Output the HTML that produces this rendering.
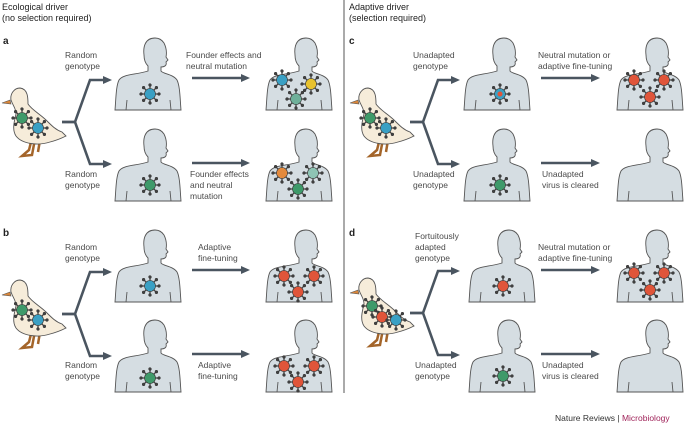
<!DOCTYPE html>
<html><head><meta charset="utf-8"><style>
body{margin:0;background:#fff}
svg{display:block}
text{font-family:"Liberation Sans",sans-serif;font-size:8.5px;fill:#4a4a4a}
.h{font-size:9px;fill:#222}
.l{font-size:10px;font-weight:bold;fill:#222}
</style></head><body>
<svg width="685" height="426" viewBox="0 0 685 426" xmlns="http://www.w3.org/2000/svg">
<defs>
<g id="p">
<path d="M40 0 C30 0 28 9 29 17 C29 22 31 26 33 28 L33 33 C20 37 8 36 4 42 C1 48 1 60 0 72 L66 72 C65 60 65 48 62 42 C58 36 48 36 46 33 L46 29 C50 29 52 27 51 24 L53 22 L51 19 C52 14 51 9 49 5 C47 2 44 0 40 0 Z" fill="#d5dde2" stroke="#555" stroke-width="0.9"/>
<path d="M12 62 L11 72 M55 62 L56 72" stroke="#555" stroke-width="0.9" fill="none"/>
</g>
<g id="v">
<g stroke="#444" stroke-width="1.3">
<path d="M0 -9 V9 M-9 0 H9 M-6.4 -6.4 L6.4 6.4 M-6.4 6.4 L6.4 -6.4"/>
</g>
<g fill="#444"><circle cx="0" cy="-9" r="1.3"/><circle cx="0" cy="9" r="1.3"/><circle cx="-9" cy="0" r="1.3"/><circle cx="9" cy="0" r="1.3"/><circle cx="-6.4" cy="-6.4" r="1.3"/><circle cx="6.4" cy="6.4" r="1.3"/><circle cx="-6.4" cy="6.4" r="1.3"/><circle cx="6.4" cy="-6.4" r="1.3"/></g>
</g>
<g id="d">
<path d="M30 52 L27 64 L20 70 L30 69 L33 53 M38 54 L36 66" stroke="#a4652a" stroke-width="2.5" fill="none"/>
<path d="M8 14 L0 17 L9 18 Z" fill="#d9863a" stroke="#555" stroke-width="0.6"/>
<path d="M18 2 C12 2 8 8 9 14 C11 20 14 22 14 28 C12 36 10 44 14 50 C20 58 36 60 48 56 C56 54 60 52 64 50 L60 46 C54 44 50 40 44 34 C38 28 30 24 26 18 C26 12 26 3 18 2 Z" fill="#f6ecda" stroke="#555" stroke-width="0.9"/>
</g>
<marker id="ar" markerWidth="10" markerHeight="10" refX="3" refY="5" orient="auto" markerUnits="userSpaceOnUse"><path d="M0 1 L9 5 L0 9 Z" fill="#4a5560"/></marker>
</defs>
<text class="h" x="2" y="10">Ecological driver</text>
<text class="h" x="2" y="21">(no selection required)</text>
<text class="h" x="349" y="10">Adaptive driver</text>
<text class="h" x="349" y="21">(selection required)</text>
<text class="l" x="3" y="44">a</text><text class="l" x="3" y="236">b</text>
<text class="l" x="349" y="44">c</text><text class="l" x="349" y="236">d</text>
<line x1="344" y1="0" x2="344" y2="393" stroke="#555" stroke-width="1"/>
<g fill="none" stroke="#4a5560" stroke-width="2.6">
<path d="M62 122 H75 L90 80 H106" marker-end="url(#ar)"/>
<path d="M62 122 H75 L90 164 H106" marker-end="url(#ar)"/>
<path d="M62 314 H75 L90 272 H106" marker-end="url(#ar)"/>
<path d="M62 314 H75 L90 356 H106" marker-end="url(#ar)"/>
<path d="M410 122 H423 L438 80 H454" marker-end="url(#ar)"/>
<path d="M410 122 H423 L438 164 H454" marker-end="url(#ar)"/>
<path d="M410 313 H423 L438 271 H454" marker-end="url(#ar)"/>
<path d="M410 313 H423 L438 355 H454" marker-end="url(#ar)"/>
<path d="M192 78 H244" marker-end="url(#ar)"/>
<path d="M192 163 H244" marker-end="url(#ar)"/>
<path d="M192 270 H244" marker-end="url(#ar)"/>
<path d="M192 354 H244" marker-end="url(#ar)"/>
<path d="M541 78 H594" marker-end="url(#ar)"/>
<path d="M541 163 H594" marker-end="url(#ar)"/>
<path d="M541 270 H594" marker-end="url(#ar)"/>
<path d="M541 354 H594" marker-end="url(#ar)"/>
</g>
<use href="#p" x="115" y="38"/><use href="#p" x="266" y="38"/>
<use href="#p" x="115" y="129"/><use href="#p" x="266" y="129"/>
<use href="#p" x="115" y="230"/><use href="#p" x="266" y="230"/>
<use href="#p" x="115" y="320"/><use href="#p" x="266" y="320"/>
<use href="#p" x="464" y="38"/><use href="#p" x="617" y="38"/>
<use href="#p" x="464" y="129"/><use href="#p" x="617" y="129"/>
<use href="#p" x="469" y="230"/><use href="#p" x="617" y="230"/>
<use href="#p" x="469" y="320"/><use href="#p" x="617" y="320"/>
<use href="#d" x="2" y="86"/><use href="#d" x="2" y="278"/>
<use href="#d" x="350" y="86"/><use href="#d" x="350" y="276"/>
<g stroke="#333" stroke-width="0.6">
<use href="#v" x="22" y="118"/><circle cx="22" cy="118" r="5.5" fill="#3f9a6a"/>
<use href="#v" x="38" y="128"/><circle cx="38" cy="128" r="5.5" fill="#3aa0c4"/>
<use href="#v" x="150" y="94"/><circle cx="150" cy="94" r="5.5" fill="#3aa0c4"/>
<use href="#v" x="282" y="80"/><circle cx="282" cy="80" r="5.5" fill="#3aa0c4"/>
<use href="#v" x="311" y="84"/><circle cx="311" cy="84" r="5.5" fill="#e8c22e"/>
<use href="#v" x="296" y="99"/><circle cx="296" cy="99" r="5.5" fill="#6fb09a"/>
<use href="#v" x="150" y="185"/><circle cx="150" cy="185" r="5.5" fill="#3f9a6a"/>
<use href="#v" x="282" y="173"/><circle cx="282" cy="173" r="5.5" fill="#e48a3c"/>
<use href="#v" x="313" y="173"/><circle cx="313" cy="173" r="5.5" fill="#8ec4b4"/>
<use href="#v" x="298" y="189"/><circle cx="298" cy="189" r="5.5" fill="#3f9a6a"/>
<use href="#v" x="22" y="310"/><circle cx="22" cy="310" r="5.5" fill="#3f9a6a"/>
<use href="#v" x="38" y="320"/><circle cx="38" cy="320" r="5.5" fill="#3aa0c4"/>
<use href="#v" x="150" y="286"/><circle cx="150" cy="286" r="5.5" fill="#3aa0c4"/>
<use href="#v" x="284" y="276"/><circle cx="284" cy="276" r="5.5" fill="#e0553a"/>
<use href="#v" x="314" y="276"/><circle cx="314" cy="276" r="5.5" fill="#e0553a"/>
<use href="#v" x="298" y="292"/><circle cx="298" cy="292" r="5.5" fill="#e0553a"/>
<use href="#v" x="150" y="378"/><circle cx="150" cy="378" r="5.5" fill="#3f9a6a"/>
<use href="#v" x="284" y="366"/><circle cx="284" cy="366" r="5.5" fill="#e0553a"/>
<use href="#v" x="314" y="366"/><circle cx="314" cy="366" r="5.5" fill="#e0553a"/>
<use href="#v" x="298" y="382"/><circle cx="298" cy="382" r="5.5" fill="#e0553a"/>
<use href="#v" x="370" y="118"/><circle cx="370" cy="118" r="5.5" fill="#3f9a6a"/>
<use href="#v" x="386" y="128"/><circle cx="386" cy="128" r="5.5" fill="#3aa0c4"/>
<use href="#v" x="500" y="94"/><circle cx="500" cy="94" r="5.5" fill="#3aa0c4"/><circle cx="500" cy="94" r="2.5" fill="#e0553a" stroke="none"/>
<use href="#v" x="634" y="80"/><circle cx="634" cy="80" r="5.5" fill="#e0553a"/>
<use href="#v" x="664" y="80"/><circle cx="664" cy="80" r="5.5" fill="#e0553a"/>
<use href="#v" x="650" y="97"/><circle cx="650" cy="97" r="5.5" fill="#e0553a"/>
<use href="#v" x="500" y="185"/><circle cx="500" cy="185" r="5.5" fill="#3f9a6a"/>
<use href="#v" x="372" y="306"/><circle cx="372" cy="306" r="5.5" fill="#3f9a6a"/>
<use href="#v" x="382" y="317"/><circle cx="382" cy="317" r="5.5" fill="#e0553a"/>
<use href="#v" x="396" y="320"/><circle cx="396" cy="320" r="5.5" fill="#3aa0c4"/>
<use href="#v" x="503" y="286"/><circle cx="503" cy="286" r="5.5" fill="#e0553a"/>
<use href="#v" x="634" y="273"/><circle cx="634" cy="273" r="5.5" fill="#e0553a"/>
<use href="#v" x="664" y="273"/><circle cx="664" cy="273" r="5.5" fill="#e0553a"/>
<use href="#v" x="650" y="290"/><circle cx="650" cy="290" r="5.5" fill="#e0553a"/>
<use href="#v" x="503" y="376"/><circle cx="503" cy="376" r="5.5" fill="#3f9a6a"/>
</g>
<text x="65" y="58">Random</text><text x="65" y="69">genotype</text>
<text x="65" y="177">Random</text><text x="65" y="188">genotype</text>
<text x="186" y="58">Founder effects and</text><text x="186" y="69">neutral mutation</text>
<text x="190" y="177">Founder effects</text><text x="190" y="188">and neutral</text><text x="190" y="199">mutation</text>
<text x="65" y="250">Random</text><text x="65" y="261">genotype</text>
<text x="65" y="368">Random</text><text x="65" y="379">genotype</text>
<text x="198" y="250">Adaptive</text><text x="198" y="261">fine-tuning</text>
<text x="198" y="368">Adaptive</text><text x="198" y="379">fine-tuning</text>
<text x="413" y="58">Unadapted</text><text x="413" y="69">genotype</text>
<text x="413" y="177">Unadapted</text><text x="413" y="188">genotype</text>
<text x="538" y="58">Neutral mutation or</text><text x="538" y="69">adaptive fine-tuning</text>
<text x="542" y="177">Unadapted</text><text x="542" y="188">virus is cleared</text>
<text x="415" y="239">Fortuitously</text><text x="415" y="250">adapted</text><text x="415" y="261">genotype</text>
<text x="415" y="368">Unadapted</text><text x="415" y="379">genotype</text>
<text x="538" y="250">Neutral mutation or</text><text x="538" y="261">adaptive fine-tuning</text>
<text x="542" y="368">Unadapted</text><text x="542" y="379">virus is cleared</text>
<text x="555" y="421" style="font-size:8.5px;fill:#333">Nature Reviews | <tspan fill="#a0245a">Microbiology</tspan></text>
</svg>
</body></html>
